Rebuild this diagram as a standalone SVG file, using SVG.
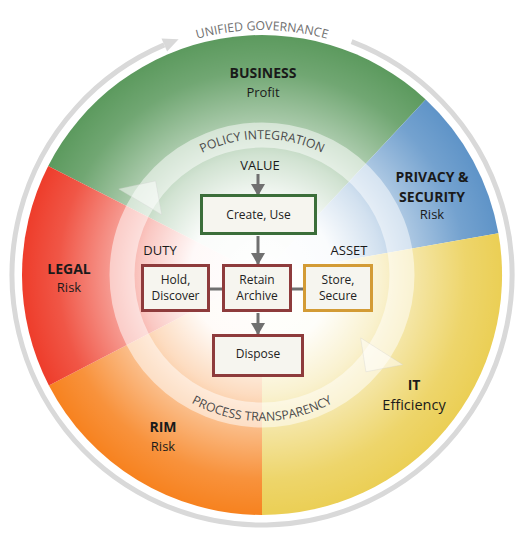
<svg xmlns="http://www.w3.org/2000/svg" width="526" height="538" viewBox="0 0 526 538">
<defs>
<radialGradient id="fade" cx="262" cy="275" r="240" gradientUnits="userSpaceOnUse">
<stop offset="0" stop-color="#fff" stop-opacity="1"/>
<stop offset="0.3" stop-color="#fff" stop-opacity="0.97"/>
<stop offset="0.5" stop-color="#fff" stop-opacity="0.72"/>
<stop offset="0.65" stop-color="#fff" stop-opacity="0.45"/>
<stop offset="0.85" stop-color="#fff" stop-opacity="0.13"/>
<stop offset="1" stop-color="#fff" stop-opacity="0"/>
</radialGradient>
<marker id="ah" markerUnits="userSpaceOnUse" markerWidth="12" markerHeight="14" viewBox="0 0 12 14" refX="12" refY="7" orient="auto">
<path d="M0,0 L12,7 L0,14 Z" fill="#707070"/>
</marker>
<path id="pOuter" d="M17,275 A245,245 0 0 1 507,275"/>
<path id="pTop" d="M126,275 A136,136 0 0 1 398,275"/>
<path id="pBot" d="M116,275 A146,146 0 0 0 408,275"/>
</defs>
<style>
.lbl{font-family:"Open Sans","Noto Sans","Liberation Sans",sans-serif;fill:#1a1a1a;text-anchor:middle}
.b{font-weight:bold;font-size:14px}
.r{font-size:13px}
.arc{font-family:"Open Sans","Noto Sans","Liberation Sans",sans-serif;font-size:12.3px;fill:#4a4a4a}
.box{fill:#f6f5ef;stroke-width:3}
.bt{font-family:"Open Sans","Noto Sans","Liberation Sans",sans-serif;font-size:12px;fill:#222;text-anchor:middle}
.con{stroke:#707070;stroke-width:3;fill:none}
.ring{fill:none;stroke:#d9d9d9;stroke-width:5}
</style>

<g id="sectors">
<path id="business" d="M262,275 L48.2,166 A240,240 0 0 1 425.7,99.5 Z" fill="#5c9a5e"/>
<path id="privacy" d="M262,275 L425.7,99.5 A240,240 0 0 1 498.4,233.3 Z" fill="#5f94c8"/>
<path id="it" d="M262,275 L498.4,233.3 A240,240 0 0 1 262,515 Z" fill="#ebcf55"/>
<path id="rim" d="M262,275 L262,515 A240,240 0 0 1 48.9,385.4 Z" fill="#f7821f"/>
<path id="legal" d="M262,275 L48.9,385.4 A240,240 0 0 1 48.2,166 Z" fill="#ee3d2b"/>
<circle cx="262" cy="275" r="240" fill="url(#fade)"/>
</g>

<g id="outer-ring">
<path class="ring" d="M351.6,41.6 A250,250 0 1 1 164.3,44.9"/>
<polygon points="161.5,38.5 167.1,51.4 178.6,39.3" fill="#d9d9d9"/>
<text class="arc" font-size="12.8" style="fill:#707070"><textPath href="#pOuter" startOffset="50%" text-anchor="middle">UNIFIED GOVERNANCE</textPath></text>
</g>

<g id="inner-ring">
<circle cx="262" cy="275" r="140" fill="none" stroke="#fff" stroke-width="25" stroke-opacity="0.5"/>
<polygon points="161.7,214.7 118.8,189 155.6,180.9" fill="#fff" fill-opacity="0.5" stroke="#cfcfcf" stroke-opacity="0.4" stroke-width="0.8"/>
<polygon points="360.7,337.9 402.8,364.7 365.9,371.8" fill="#fff" fill-opacity="0.5" stroke="#cfcfcf" stroke-opacity="0.4" stroke-width="0.8"/>
<text class="arc"><textPath href="#pTop" startOffset="50%" text-anchor="middle">POLICY INTEGRATION</textPath></text>
<text class="arc"><textPath href="#pBot" startOffset="50%" text-anchor="middle">PROCESS TRANSPARENCY</textPath></text>
</g>

<g id="sector-labels">
<text class="lbl b" x="263" y="78">BUSINESS</text>
<text class="lbl r" x="263" y="97">Profit</text>
<text class="lbl b" x="432" y="182">PRIVACY &amp;</text>
<text class="lbl b" x="432" y="202">SECURITY</text>
<text class="lbl r" x="432" y="219">Risk</text>
<text class="lbl b" x="69" y="274">LEGAL</text>
<text class="lbl r" x="69" y="292">Risk</text>
<text class="lbl b" x="163" y="432">RIM</text>
<text class="lbl r" x="163" y="451">Risk</text>
<text class="lbl b" x="414" y="390" font-size="15">IT</text>
<text class="lbl" x="414" y="410" font-size="14.5">Efficiency</text>
<text class="lbl r" x="260" y="170">VALUE</text>
<text class="lbl r" x="160" y="255">DUTY</text>
<text class="lbl r" x="349" y="255">ASSET</text>
</g>

<g id="connectors">
<line class="con" x1="258" y1="174" x2="258" y2="196" marker-end="url(#ah)"/>
<line class="con" x1="258" y1="236" x2="258" y2="265" marker-end="url(#ah)"/>
<line class="con" x1="258" y1="313" x2="258" y2="335" marker-end="url(#ah)"/>
<line class="con" x1="210" y1="289" x2="223" y2="289"/>
<line class="con" x1="291" y1="289" x2="304" y2="289"/>
</g>

<g id="create-use">
<rect class="box" x="201.5" y="195.5" width="114" height="38" stroke="#3b6e3a"/>
<text class="bt" x="258.5" y="219">Create, Use</text>
</g>
<g id="hold-discover">
<rect class="box" x="142.5" y="265.5" width="66" height="45" stroke="#8e3b3c"/>
<text class="bt" x="175.5" y="284">Hold,</text>
<text class="bt" x="175.5" y="300">Discover</text>
</g>
<g id="retain-archive">
<rect class="box" x="223.5" y="265.5" width="67" height="45" stroke="#8e3b3c"/>
<text class="bt" x="257" y="284">Retain</text>
<text class="bt" x="257" y="300">Archive</text>
</g>
<g id="store-secure">
<rect class="box" x="304.5" y="265.5" width="67" height="45" stroke="#d39b35"/>
<text class="bt" x="338" y="284">Store,</text>
<text class="bt" x="338" y="300">Secure</text>
</g>
<g id="dispose">
<rect class="box" x="213.5" y="335.5" width="89" height="40" stroke="#8e3b3c"/>
<text class="bt" x="258" y="358">Dispose</text>
</g>
</svg>
